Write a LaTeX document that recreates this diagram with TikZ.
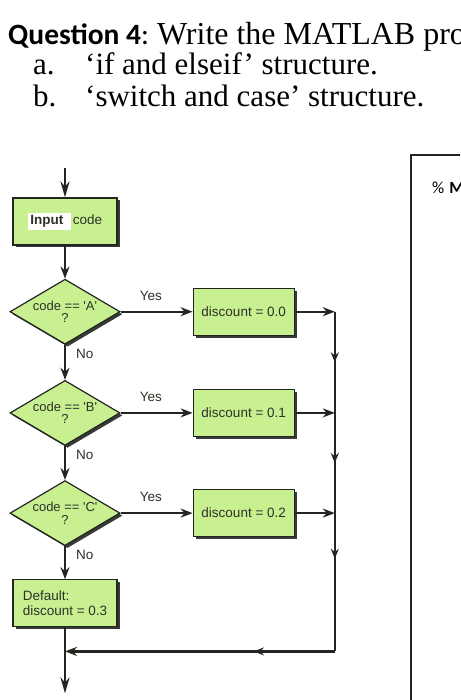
\documentclass[tikz,border=0pt]{standalone}
\usepackage{fontspec}
\setmainfont{Liberation Serif}
\newfontfamily\qfont{Carlito}
\newfontfamily\chartfont{Liberation Sans}
\usetikzlibrary{arrows.meta,positioning,calc,shapes.geometric,shadows,decorations.markings}
\definecolor{BoxGreen}{RGB}{200,240,145}
\definecolor{EdgeGray}{RGB}{35,37,33}
\definecolor{ChartText}{RGB}{45,50,40}

\begin{document}
\begin{tikzpicture}[x=1pt, y=-1pt,
  chart/.style={font=\chartfont\fontsize{13.5}{15}\selectfont, text=ChartText},
  shade/.style={drop shadow={shadow xshift=2.5pt, shadow yshift=-2.5pt, fill=EdgeGray, opacity=0.9}},
  procbox/.style={chart, draw=EdgeGray, fill=BoxGreen, line width=1.2pt, minimum width=104pt, minimum height=47pt, inner sep=0pt, shade},
  outbox/.style={procbox, minimum width=101pt},
  decide/.style={chart, diamond, draw=EdgeGray, fill=BoxGreen, line width=1.2pt, aspect=1.7, minimum width=110pt, minimum height=65pt, inner sep=0pt, align=center, font=\chartfont\fontsize{13}{12.5}\selectfont, shade},
  flow/.style={line width=2.3pt, EdgeGray, -{Stealth[length=12pt, width=9pt]}},
  bigflow/.style={line width=2.3pt, EdgeGray, -{Stealth[length=16pt, width=9pt]}},
  plain/.style={line width=2.3pt, EdgeGray},
  midtip/.style={postaction={decorate}, decoration={markings, mark=at position #1 with {\arrow{Stealth[length=10pt, width=8pt]}}}},
  lbl/.style={chart, inner sep=0pt},
  node distance=33pt and 72pt
]
  \clip (0,0) rectangle (460,700);
  \fill[white] (0,0) rectangle (460,700);

  % heading
  \node[anchor=base west, inner sep=0pt] (qhead) at (8,45)
    {{\qfont\fontsize{29.5}{31}\selectfont\bfseries Question 4}{\qfont\fontsize{29.5}{31}\selectfont:}%
     \fontsize{32}{34}\selectfont\ Write the MATLAB pro};
  \node[anchor=base west, inner sep=0pt, font=\fontsize{31}{33}\selectfont] (qa) at (33,75) {a.};
  \node[anchor=base west, inner sep=0pt, font=\fontsize{31}{33}\selectfont] (qatxt) at (85,75) {‘if and elseif’ structure.};
  \node[anchor=base west, inner sep=0pt, font=\fontsize{31}{33}\selectfont] (qb) at (33,107) {b.};
  \node[anchor=base west, inner sep=0pt, font=\fontsize{31}{33}\selectfont] (qbtxt) at (85,107) {‘switch and case’ structure.};

  % answer panel
  \draw[line width=2pt, EdgeGray] (411,702) -- (411,155) -- (462,155);
  \node[anchor=west, inner sep=0pt, font=\qfont\fontsize{17}{19}\selectfont] (ans) at (432,188) {\%\hspace{5pt}\textbf{M}};

  % flowchart nodes
  \coordinate (start) at (65,168);
  \node[procbox] (inp) at (65,221.5)
    {{\setlength\fboxsep{2.5pt}\colorbox{white}{\textbf{Input}\hspace{5pt}}}\hspace{2pt}code};
  \node[decide, below=of inp] (dA) {code == \textquotesingle A\textquotesingle\\?};
  \node[decide, below=35pt of dA] (dB) {code == \textquotesingle B\textquotesingle\\?};
  \node[decide, below=34pt of dB] (dC) {code == \textquotesingle C\textquotesingle\\?};
  \node[procbox, below=of dC, align=left, inner xsep=9pt] (dflt) {Default:\\discount = 0.3};
  \node[outbox, right=of dA] (oA) {discount = 0.0};
  \node[outbox, right=of dB] (oB) {discount = 0.1};
  \node[outbox, right=of dC] (oC) {discount = 0.2};

  % collector line
  \coordinate (jA) at ($(oA.east)+(40,0)$);
  \coordinate (jB) at (jA |- oB.east);
  \coordinate (jC) at (jA |- oC.east);
  \coordinate (bot) at ($(dflt.south)+(0,24)$);
  \coordinate (botR) at (jA |- bot);
  \coordinate (exit) at ($(dflt.south)+(0,66)$);

  % connectors
  \draw[bigflow] (start) -- (inp);
  \draw[flow] (inp) -- (dA);
  \draw[flow] (dA) -- node[lbl, right=10pt, pos=0.25] {No} (dB);
  \draw[flow] (dB) -- node[lbl, right=10pt, pos=0.25] {No} (dC);
  \draw[flow] (dC) -- node[lbl, right=10pt, pos=0.27] {No} (dflt);
  \draw[flow] (dA) -- node[lbl, above=10pt, pos=0.42] {Yes} (oA);
  \draw[flow] (dB) -- node[lbl, above=10pt, pos=0.42] {Yes} (oB);
  \draw[flow] (dC) -- node[lbl, above=10pt, pos=0.42] {Yes} (oC);
  \draw[flow] (oA) -- (jA);
  \draw[flow] (oB) -- (jB);
  \draw[flow] (oC) -- (jC);
  \draw[plain, midtip=0.5] (jA) -- (jB);
  \draw[plain, midtip=0.5] (jB) -- (jC);
  \draw[plain, midtip=0.33] (jC) -- (botR);
  \draw[flow, midtip=0.3] (botR) -- (bot);
  \draw[bigflow] (dflt) -- (exit);
\end{tikzpicture}
\end{document}
